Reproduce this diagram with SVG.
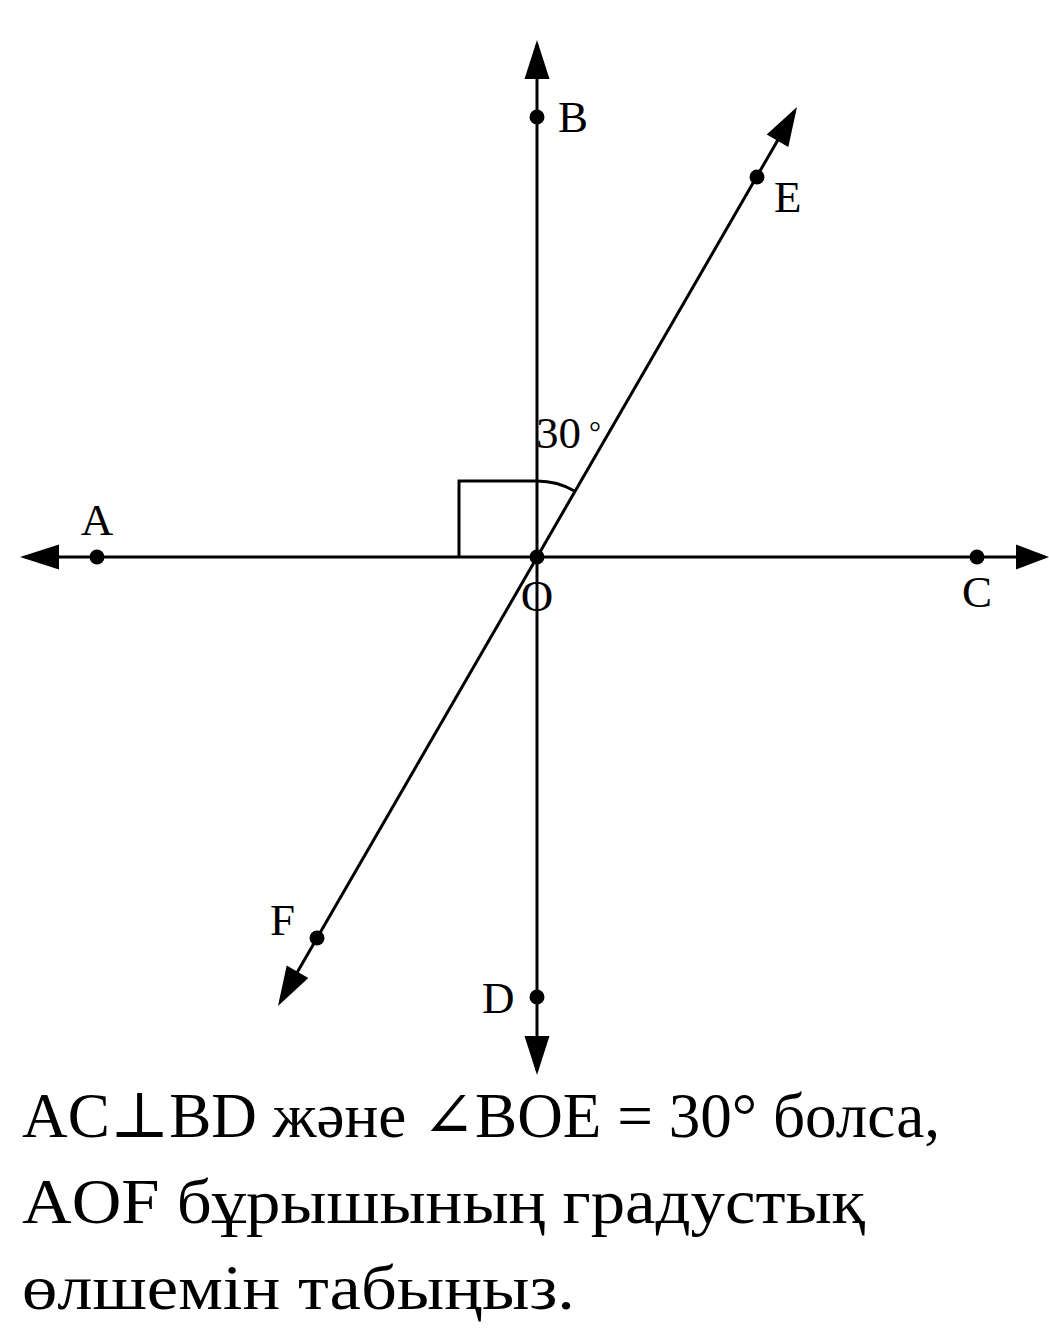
<svg xmlns="http://www.w3.org/2000/svg" width="1049" height="1338" viewBox="0 0 1049 1338">
<style>
.ln{stroke:#000;stroke-width:3;fill:none}
.ah{fill:#000;stroke:none}
.pt{fill:#000}
.lb{font-family:"Liberation Serif","DejaVu Serif",serif;font-size:45px;fill:#000}
.tx{font-family:"Liberation Serif","DejaVu Serif",serif;font-size:64px;fill:#000}
</style>
<rect width="1049" height="1338" fill="#fff"/>
<g id="connectors">
<line class="ln" x1="537" y1="45" x2="537" y2="1070"/>
<line class="ln" x1="25" y1="557" x2="1044" y2="557"/>
<line class="ln" x1="280.5" y1="1001.3" x2="794.5" y2="111.3"/>
<polygon class="ah" points="537,40 524.5,79 549.5,79"/>
<polygon class="ah" points="537,1075 524.5,1036 549.5,1036"/>
<polygon class="ah" points="20,557 59,544.5 59,569.5"/>
<polygon class="ah" points="1049,557 1016,544.5 1016,569.5"/>
<polygon class="ah" points="797,107 788.3,147.1 766.7,134.6"/>
<polygon class="ah" points="278,1006 308.3,978.1 286.7,965.6"/>
<path class="ln" d="M459,557 V481 H537"/>
<path class="ln" d="M537,481 A76,76 0 0 1 575,491.2"/>
</g>
<g id="node-O"><circle class="pt" cx="537" cy="557" r="7.5"/><text class="lb" x="537" y="611" text-anchor="middle">O</text></g>
<g id="node-B"><circle class="pt" cx="537" cy="117" r="7.5"/><text class="lb" x="558" y="132">B</text></g>
<g id="node-E"><circle class="pt" cx="757" cy="177" r="7.5"/><text class="lb" x="774" y="212">E</text></g>
<g id="node-A"><circle class="pt" cx="97" cy="557" r="7.5"/><text class="lb" x="97" y="535" text-anchor="middle">A</text></g>
<g id="node-C"><circle class="pt" cx="977" cy="557" r="7.5"/><text class="lb" x="977" y="607" text-anchor="middle">C</text></g>
<g id="node-D"><circle class="pt" cx="537" cy="997" r="7.5"/><text class="lb" x="482" y="1013">D</text></g>
<g id="node-F"><circle class="pt" cx="317" cy="938" r="7.5"/><text class="lb" x="270" y="935">F</text></g>
<g id="angle-label"><text class="lb" x="536" y="448">30<tspan dx="8" dy="-6" font-size="30">°</tspan></text></g>
<g id="question">
<text class="tx" x="22" y="1137" textLength="918" lengthAdjust="spacingAndGlyphs">AC⊥BD және ∠BOE = 30° болса,</text>
<text class="tx" x="22" y="1223" textLength="843" lengthAdjust="spacingAndGlyphs">AOF бұрышының градустық</text>
<text class="tx" x="22" y="1309" textLength="553" lengthAdjust="spacingAndGlyphs">өлшемін табыңыз.</text>
</g>
</svg>
